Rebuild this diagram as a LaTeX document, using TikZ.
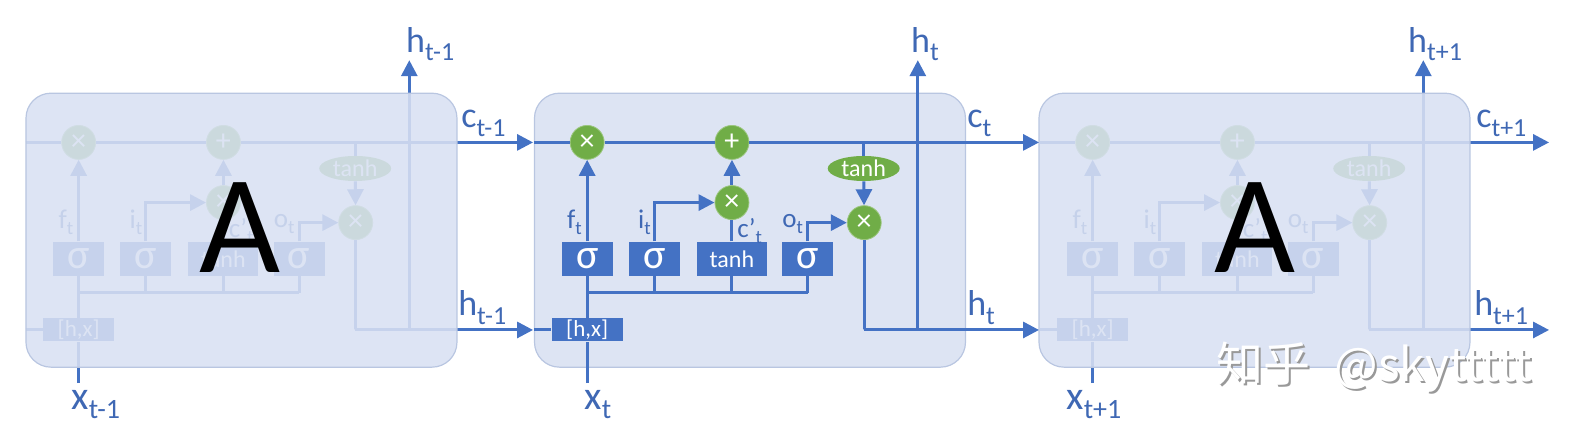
\documentclass[tikz,border=0pt]{standalone}
\usepackage{fontspec}
\setmainfont{Carlito}
\newfontfamily\cjkfont{Noto Sans CJK SC}
\usetikzlibrary{arrows.meta,shapes.geometric,calc}
\definecolor{lblue}{HTML}{4472C4}
\definecolor{lgreen}{HTML}{70AD47}
\definecolor{cellfill}{HTML}{DDE4F3}
\definecolor{veilfill}{HTML}{D8E0F2}
\definecolor{celledge}{HTML}{B9C6E1}
\definecolor{labblue}{HTML}{3F68B4}
\newcommand\outlab[2]{{\fontsize{18}{20}\selectfont #1\raisebox{-.24em}{\fontsize{13}{15}\selectfont #2}}}
\newcommand\xlab[2]{{\fontsize{20}{22}\selectfont #1\raisebox{-.22em}{\fontsize{14}{15}\selectfont #2}}}
\newcommand\inlab[2]{{\fontsize{13.5}{16}\selectfont #1\raisebox{-.22em}{\fontsize{9.5}{11}\selectfont #2}}}
\tikzset{
  wire/.style={draw=lblue,line width=1.5pt},
  wirearrow/.style={wire,-{Triangle[length=8pt,width=8pt]}},
  opcircle/.style={circle,fill=lgreen,draw=lgreen!70!white,line width=.4pt,minimum size=17pt,inner sep=0pt,text=white,font=\fontsize{15}{16}\selectfont},
  opellipse/.style={ellipse,fill=lgreen,minimum width=36pt,minimum height=12.5pt,inner sep=0pt,text=white,font=\fontsize{12}{14}\selectfont},
  sigbox/.style={rectangle,fill=lblue,minimum width=25.5pt,minimum height=17pt,inner sep=0pt,text=white,font=\fontsize{21}{22}\selectfont},
  tanbox/.style={rectangle,fill=lblue,minimum width=35pt,minimum height=17pt,inner sep=0pt,text=white,font=\fontsize{12}{14}\selectfont},
  hxbox/.style={rectangle,fill=lblue,minimum width=35.5pt,minimum height=11.5pt,inner sep=0pt,text=white,font=\fontsize{11.5}{13}\selectfont},
  innerlab/.style={anchor=base west,inner sep=0pt,text=labblue},
  outerlab/.style={anchor=base west,inner sep=0pt,text=labblue},
  cellbox/.style={rectangle,rounded corners=12.5pt,draw=celledge,line width=.6pt,minimum width=215.5pt,minimum height=137pt,inner sep=0pt},
}
% #1 prefix, #2 x shift, #3 local x of the arrow tips on the right
\newcommand\lstmcell[3]{%
\begin{scope}[shift={(#2,0)},name prefix=#1-]
  \coordinate (cin) at (533,142);
  \coordinate (hin) at (533,329);
  \coordinate (cout) at (#3,142);
  \coordinate (hout) at (#3,329);
  \coordinate (xin) at (586,382);
  \coordinate (htop) at (916,60);
  \coordinate (bus) at (586,292);
  \coordinate (busa) at (653,292);
  \coordinate (busb) at (730.5,292);
  \coordinate (busc) at (806,292);
  \coordinate (ctap) at (862,142);
  \coordinate (hcorner) at (862,329);
  \coordinate (hup) at (916,329);
  \node[opcircle] (forget) at (586,142) {×};
  \node[opcircle] (plus) at (730.5,142) {+};
  \node[opcircle] (mult) at (730.5,202) {×};
  \node[opellipse] (ell) at (862,168) {tanh};
  \node[opcircle] (oput) at (862.5,222) {×};
  \node[sigbox] (sa) at (586,258) {σ};
  \node[sigbox] (sb) at (653,258) {σ};
  \node[tanbox] (tb) at (730.5,258) {tanh};
  \node[sigbox] (sc) at (806,258) {σ};
  \node[hxbox] (hx) at (586,329) {[h,x]};
  \node[innerlab] (lf) at (565.5,228) {\inlab{f}{t}};
  \node[innerlab] (li) at (636.5,228) {\inlab{i}{t}};
  \node[innerlab] (lc) at (735.5,237) {\inlab{c'}{t}};
  \node[innerlab] (lo) at (780.5,227) {\inlab{o}{t}};
  \draw[wire] (cin) -- (forget);
  \draw[wire] (forget) -- (plus);
  \draw[wirearrow] (plus) -- (cout);
  \draw[wire] (hin) -- (hx);
  \draw[wire] (xin) -- (hx);
  \draw[wire] (hx) -- (sa);
  \draw[wirearrow] (sa) -- (forget);
  \draw[wire] (bus) -- (busc);
  \draw[wire] (busa) -- (sb);
  \draw[wire] (busb) -- (tb);
  \draw[wire] (busc) -- (sc);
  \draw[wirearrow] (sb) |- (mult);
  \draw[wire] (tb) -- (mult);
  \draw[wirearrow] (mult) -- (plus);
  \draw[wirearrow] (sc) |- (oput);
  \draw[wire] (ctap) -- (ell);
  \draw[wirearrow] (ell) -- (oput);
  \draw[wire] (oput) |- (hcorner);
  \draw[wirearrow] (hcorner) -- (hout);
  \draw[wirearrow] (hup) -- (htop);
\end{scope}}
\begin{document}
\begin{tikzpicture}[x=.501pt,y=-.5015pt]
\useasboundingbox (0,0) rectangle (1567.9,436.7);
\lstmcell{L}{-507.5}{1039.5}
\node[cellbox,fill=veilfill,fill opacity=.88] (veilL) at (241,229.5) {};
\lstmcell{R}{504.5}{1041.5}
\node[cellbox,fill=veilfill,fill opacity=.88] (veilR) at (1252,229.5) {};
\node[cellbox,fill=cellfill] (cellM) at (748.5,229.5) {};
\lstmcell{M}{0}{1037}
\node[anchor=base,inner sep=0pt,font=\fontsize{70}{70}\selectfont] (bigL) at (240,272) {A};
\node[anchor=base,inner sep=0pt,font=\fontsize{70}{70}\selectfont] (bigR) at (1253,272) {A};
\node[outerlab] (t1) at (405,52) {\outlab{h}{t-1}};
\node[outerlab] (t2) at (460,127) {\outlab{c}{t-1}};
\node[outerlab] (t3) at (457,315) {\outlab{h}{t-1}};
\node[outerlab] (t8b) at (71,408) {\xlab{x}{t-1}};
\node[outerlab] (t5) at (909,52) {\outlab{h}{t}};
\node[outerlab] (t6) at (965,127) {\outlab{c}{t}};
\node[outerlab] (t7) at (965,315) {\outlab{h}{t}};
\node[outerlab] (t8) at (583,408) {\xlab{x}{t}};
\node[outerlab] (t9) at (1405,52) {\outlab{h}{t+1}};
\node[outerlab] (t10) at (1473,127) {\outlab{c}{t+1}};
\node[outerlab] (t11) at (1471,315) {\outlab{h}{t+1}};
\node[outerlab] (t12) at (1064,408) {\xlab{x}{t+1}};
\node[anchor=base west,inner sep=0pt,text=black!40,font=\cjkfont\fontsize{23.5}{26}\selectfont] (wmshadow) at (1216,382) {知乎\hspace{12pt}{\fontsize{23}{26}\selectfont @skyttttt}};
\node[anchor=base west,inner sep=0pt,text=white,font=\cjkfont\fontsize{23.5}{26}\selectfont] (wm) at (1214,380) {知乎\hspace{12pt}{\fontsize{23}{26}\selectfont @skyttttt}};
\end{tikzpicture}
\end{document}
